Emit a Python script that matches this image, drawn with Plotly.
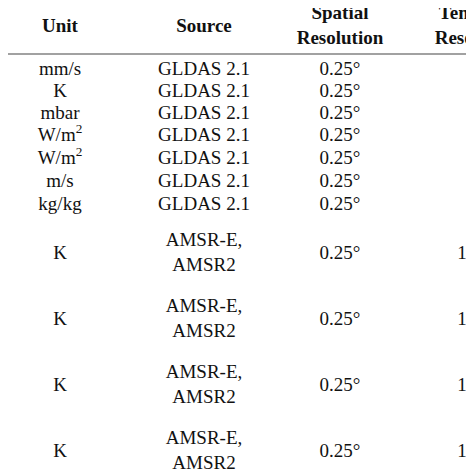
import plotly.graph_objects as go

units = ["mm/s", "K", "mbar", "W/m<sup>2</sup>", "W/m<sup>2</sup>", "m/s", "kg/kg", "K", "K", "K", "K"]
sources = ["GLDAS 2.1"] * 7 + ["AMSR-E,<br>AMSR2"] * 4
spatial = ["0.25°"] * 11
temporal = ["3 h"] * 7 + ["1 day"] * 4
headers = ["<b>Unit</b>", "<b>Source</b>", "<b>Spatial</b><br><b>Resolution</b>", "<b>Temporal</b><br><b>Resolution</b>"]

col_x = [52, 196, 332, 470]
row_y = [62, 84, 106, 128, 151, 174, 197, 246, 312, 378, 444]
head_y = [19, 19, 19, 19]

fnt = dict(family="Liberation Serif, DejaVu Serif, serif", size=19, color="#111")
fig = go.Figure()
fig.add_trace(go.Scatter(x=col_x, y=head_y, text=headers, mode="text",
                         textfont=fnt, hoverinfo="skip", cliponaxis=False))
for cx, col in zip(col_x, [units, sources, spatial, temporal]):
    fig.add_trace(go.Scatter(x=[cx] * len(col), y=row_y, text=col, mode="text",
                             textfont=fnt, hoverinfo="skip", cliponaxis=False))
fig.add_shape(type="line", x0=0, x1=474, y0=46, y1=46, line=dict(color="#444", width=1.2))
fig.update_layout(width=474, height=474, margin=dict(l=0, r=0, t=0, b=0),
                  plot_bgcolor="white", paper_bgcolor="white", showlegend=False,
                  xaxis=dict(range=[0, 474], visible=False, fixedrange=True),
                  yaxis=dict(range=[474, 0], visible=False, fixedrange=True))
fig.write_html("out.html")
